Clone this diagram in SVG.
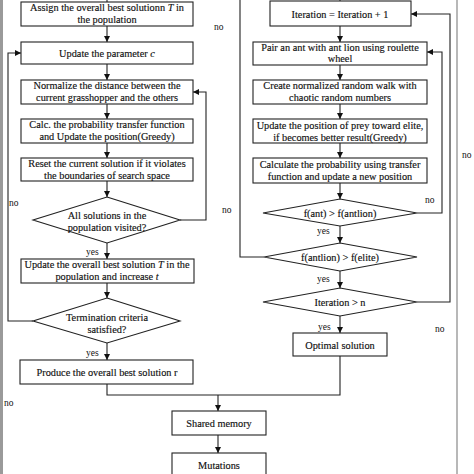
<svg xmlns="http://www.w3.org/2000/svg" width="474" height="474" viewBox="0 0 474 474">
<style>
.b{fill:#fff;stroke:#222;stroke-width:1.1}
.t{font-family:"Liberation Serif","Times New Roman",serif;font-size:10.3px;fill:#111;stroke:#111;stroke-width:0.15;text-anchor:middle}
.l{font-family:"Liberation Serif","Times New Roman",serif;font-size:9.5px;fill:#111}
.c{fill:none;stroke:#222;stroke-width:1.1}
</style>
<defs>
<marker id="a" viewBox="0 0 8 8" refX="8" refY="4" markerWidth="6" markerHeight="6" markerUnits="userSpaceOnUse" orient="auto">
<path d="M0,0 L8,4 L0,8 z" fill="#111"/>
</marker>
</defs>
<rect x="0" y="0" width="474" height="474" fill="#fff"/>
<rect x="0" y="0" width="3" height="474" fill="#9a9a9a"/>
<line x1="457" y1="0" x2="457" y2="474" stroke="#a0a0a0" stroke-width="1.5"/>

<g id="connectors">
<line class="c" x1="107" y1="0" x2="107" y2="2"/>
<line class="c" x1="107" y1="26" x2="107" y2="42" marker-end="url(#a)"/>
<line class="c" x1="107" y1="64" x2="107" y2="80" marker-end="url(#a)"/>
<line class="c" x1="107" y1="104" x2="107" y2="119" marker-end="url(#a)"/>
<line class="c" x1="107" y1="143" x2="107" y2="158" marker-end="url(#a)"/>
<line class="c" x1="107" y1="181" x2="107" y2="197" marker-end="url(#a)"/>
<line class="c" x1="107" y1="243" x2="107" y2="259" marker-end="url(#a)"/>
<line class="c" x1="107" y1="283" x2="107" y2="298" marker-end="url(#a)"/>
<line class="c" x1="107" y1="343" x2="107" y2="360" marker-end="url(#a)"/>
<polyline class="c" points="180,220 206,220 206,92 193,92" marker-end="url(#a)"/>
<polyline class="c" points="33,321 8,321 8,53 21,53" marker-end="url(#a)"/>
<polyline class="c" points="107,384 107,395 340,395 340,356"/>
<line class="c" x1="218" y1="395" x2="218" y2="411" marker-end="url(#a)"/>
<line class="c" x1="218" y1="435" x2="218" y2="453" marker-end="url(#a)"/>

<line class="c" x1="340" y1="0" x2="340" y2="1"/>
<line class="c" x1="340" y1="26" x2="340" y2="42" marker-end="url(#a)"/>
<line class="c" x1="340" y1="65" x2="340" y2="80" marker-end="url(#a)"/>
<line class="c" x1="340" y1="104" x2="340" y2="119" marker-end="url(#a)"/>
<line class="c" x1="340" y1="143" x2="340" y2="158" marker-end="url(#a)"/>
<line class="c" x1="340" y1="183" x2="340" y2="199" marker-end="url(#a)"/>
<line class="c" x1="340" y1="226" x2="340" y2="243" marker-end="url(#a)"/>
<line class="c" x1="340" y1="271" x2="340" y2="288" marker-end="url(#a)"/>
<line class="c" x1="340" y1="316" x2="340" y2="333" marker-end="url(#a)"/>
<polyline class="c" points="417,213 442,213 442,52 427,52" marker-end="url(#a)"/>
<polyline class="c" points="417,302 450,302 450,14 411,14" marker-end="url(#a)"/>
<polyline class="c" points="264,257 240,257 240,0"/>
</g>

<g id="assign"><rect class="b" x="21" y="2" width="172" height="24"/>
<text class="t" x="107" y="11">Assign the overall best solutionn <tspan font-style="italic">T</tspan> in</text>
<text class="t" x="107" y="23">the population</text></g>
<g id="param"><rect class="b" x="21" y="42" width="172" height="22"/>
<text class="t" x="107" y="56.5">Update the parameter <tspan font-style="italic">c</tspan></text></g>
<g id="normalize"><rect class="b" x="21" y="80" width="172" height="24"/>
<text class="t" x="107" y="89">Normalize the distance between the</text>
<text class="t" x="107" y="101">current grasshopper and the others</text></g>
<g id="calc"><rect class="b" x="21" y="119" width="172" height="24"/>
<text class="t" x="107" y="128">Calc. the probability transfer function</text>
<text class="t" x="107" y="140">and Update the position(Greedy)</text></g>
<g id="reset"><rect class="b" x="21" y="158" width="172" height="23"/>
<text class="t" x="107" y="167">Reset the current solution if it violates</text>
<text class="t" x="107" y="178.5">the boundaries of search space</text></g>
<g id="allvisited"><polygon class="b" points="107,197 180,220 107,243 33,220"/>
<text class="t" x="107" y="218.5">All solutions in the</text>
<text class="t" x="107" y="230.5">population visited?</text></g>
<g id="updatebest"><rect class="b" x="21" y="259" width="173" height="24"/>
<text class="t" x="107" y="268">Update the overall best solution <tspan font-style="italic">T</tspan> in the</text>
<text class="t" x="107" y="280">population and increase <tspan font-style="italic">t</tspan></text></g>
<g id="termination"><polygon class="b" points="107,298 180,321 107,343 33,321"/>
<text class="t" x="107" y="320.5">Termination criteria</text>
<text class="t" x="107" y="332.5">satisfied?</text></g>
<g id="produce"><rect class="b" x="20" y="360" width="173" height="24"/>
<text class="t" x="107" y="375.5">Produce the overall best solution r</text></g>

<g id="iteration"><rect class="b" x="270" y="1" width="141" height="25"/>
<text class="t" x="340" y="18">Iteration = Iteration + 1</text></g>
<g id="pair"><rect class="b" x="253" y="42" width="174" height="23"/>
<text class="t" x="340" y="50.5">Pair an ant with ant lion using roulette</text>
<text class="t" x="340" y="62">wheel</text></g>
<g id="create"><rect class="b" x="253" y="80" width="174" height="24"/>
<text class="t" x="340" y="89">Create normalized random walk with</text>
<text class="t" x="340" y="101">chaotic random numbers</text></g>
<g id="updateprey"><rect class="b" x="253" y="119" width="174" height="24"/>
<text class="t" x="340" y="129">Update the position of prey toward elite,</text>
<text class="t" x="340" y="140.5">if becomes better result(Greedy)</text></g>
<g id="calcprob"><rect class="b" x="253" y="158" width="174" height="25"/>
<text class="t" x="340" y="168">Calculate the probability using transfer</text>
<text class="t" x="340" y="180">function and update a new position</text></g>
<g id="fant"><polygon class="b" points="340,199 417,213 340,226 263,213"/>
<text class="t" x="340" y="216.5">f(ant) &gt; f(antlion)</text></g>
<g id="fantlion"><polygon class="b" points="340,243 417,257 340,271 264,257"/>
<text class="t" x="340" y="260.5">f(antlion) &gt; f(elite)</text></g>
<g id="itern"><polygon class="b" points="340,288 417,302 340,316 263,302"/>
<text class="t" x="340" y="305.5">Iteration &gt; n</text></g>
<g id="optimal"><rect class="b" x="293" y="333" width="94" height="23"/>
<text class="t" x="340" y="348.5">Optimal solution</text></g>

<g id="shared"><rect class="b" x="172" y="411" width="94" height="24"/>
<text class="t" x="219" y="426.5">Shared memory</text></g>
<g id="mutations"><rect class="b" x="172" y="453" width="94" height="30"/>
<text class="t" x="219" y="468.5">Mutations</text></g>

<g id="labels">
<text class="l" x="214" y="30">no</text>
<text class="l" x="9" y="206">no</text>
<text class="l" x="222" y="213">no</text>
<text class="l" x="86" y="255">yes</text>
<text class="l" x="86" y="356">yes</text>
<text class="l" x="4" y="406">no</text>
<text class="l" x="425" y="203">no</text>
<text class="l" x="462" y="158">no</text>
<text class="l" x="317" y="234">yes</text>
<text class="l" x="317" y="282">yes</text>
<text class="l" x="318" y="330">yes</text>
<text class="l" x="435" y="332">no</text>
</g>
</svg>
